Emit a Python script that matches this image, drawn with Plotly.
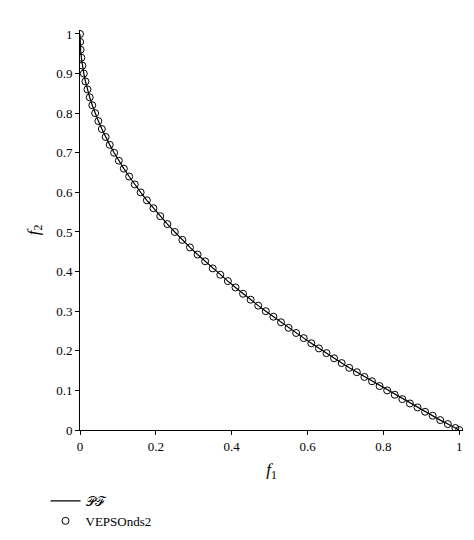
import plotly.graph_objects as go

f1 = [0, 0.0004, 0.0016, 0.0036, 0.0064, 0.01, 0.0144, 0.0196, 0.0256, 0.0324, 0.04,
      0.0484, 0.0576, 0.0676, 0.0784, 0.09, 0.1024, 0.1156, 0.1296, 0.1444, 0.16,
      0.1764, 0.1936, 0.2116, 0.2304, 0.25, 0.27, 0.29, 0.31, 0.33, 0.35, 0.37, 0.39,
      0.41, 0.43, 0.45, 0.47, 0.49, 0.51, 0.53, 0.55, 0.57, 0.59, 0.61, 0.63, 0.65,
      0.67, 0.69, 0.71, 0.73, 0.75, 0.77, 0.79, 0.81, 0.83, 0.85, 0.87, 0.89, 0.91,
      0.93, 0.95, 0.97, 0.99, 1.0]
f2 = [1.0, 0.98, 0.96, 0.94, 0.92, 0.90, 0.88, 0.86, 0.84, 0.82, 0.80,
      0.78, 0.76, 0.74, 0.72, 0.70, 0.68, 0.66, 0.64, 0.62, 0.60,
      0.58, 0.56, 0.54, 0.52, 0.50, 0.480, 0.461, 0.443, 0.426, 0.408, 0.392, 0.376,
      0.360, 0.344, 0.329, 0.314, 0.300, 0.286, 0.272, 0.258, 0.245, 0.232, 0.219, 0.206, 0.194,
      0.181, 0.169, 0.157, 0.146, 0.134, 0.123, 0.111, 0.100, 0.089, 0.078, 0.067, 0.057, 0.046,
      0.036, 0.025, 0.015, 0.005, 0.0]

font = dict(family="Liberation Serif", size=13, color="black")
tfont = dict(family="Liberation Serif", size=17, color="black")
fig = go.Figure()
fig.add_trace(go.Scatter(x=f1, y=f2, mode="lines", name="𝒫ℱ",
                         line=dict(color="black", width=1.2)))
fig.add_trace(go.Scatter(x=f1, y=f2, mode="markers", name="VEPSOnds2",
                         marker=dict(symbol="circle-open", size=7, color="black",
                                     line=dict(width=1, color="black"))))
axis = dict(showline=True, linecolor="black", linewidth=1, ticks="outside",
            ticklen=4, tickcolor="black", showgrid=False, zeroline=False,
            range=[0, 1.01], tickfont=font, mirror=False)
fig.update_layout(
    width=474, height=540, paper_bgcolor="white", plot_bgcolor="white",
    font=font, margin=dict(l=72, r=19, t=22, b=112),
    xaxis=dict(axis, dtick=0.2, title=dict(text="<i>f</i><sub>1</sub>", font=tfont, standoff=10)),
    yaxis=dict(axis, dtick=0.1, title=dict(text="<i>f</i><sub>2</sub>", font=tfont, standoff=12)),
    legend=dict(x=-0.09, y=-0.14, xanchor="left", yanchor="top", font=font,
                bgcolor="rgba(0,0,0,0)", tracegroupgap=0),
    showlegend=True,
)
fig.write_html("out.html")
